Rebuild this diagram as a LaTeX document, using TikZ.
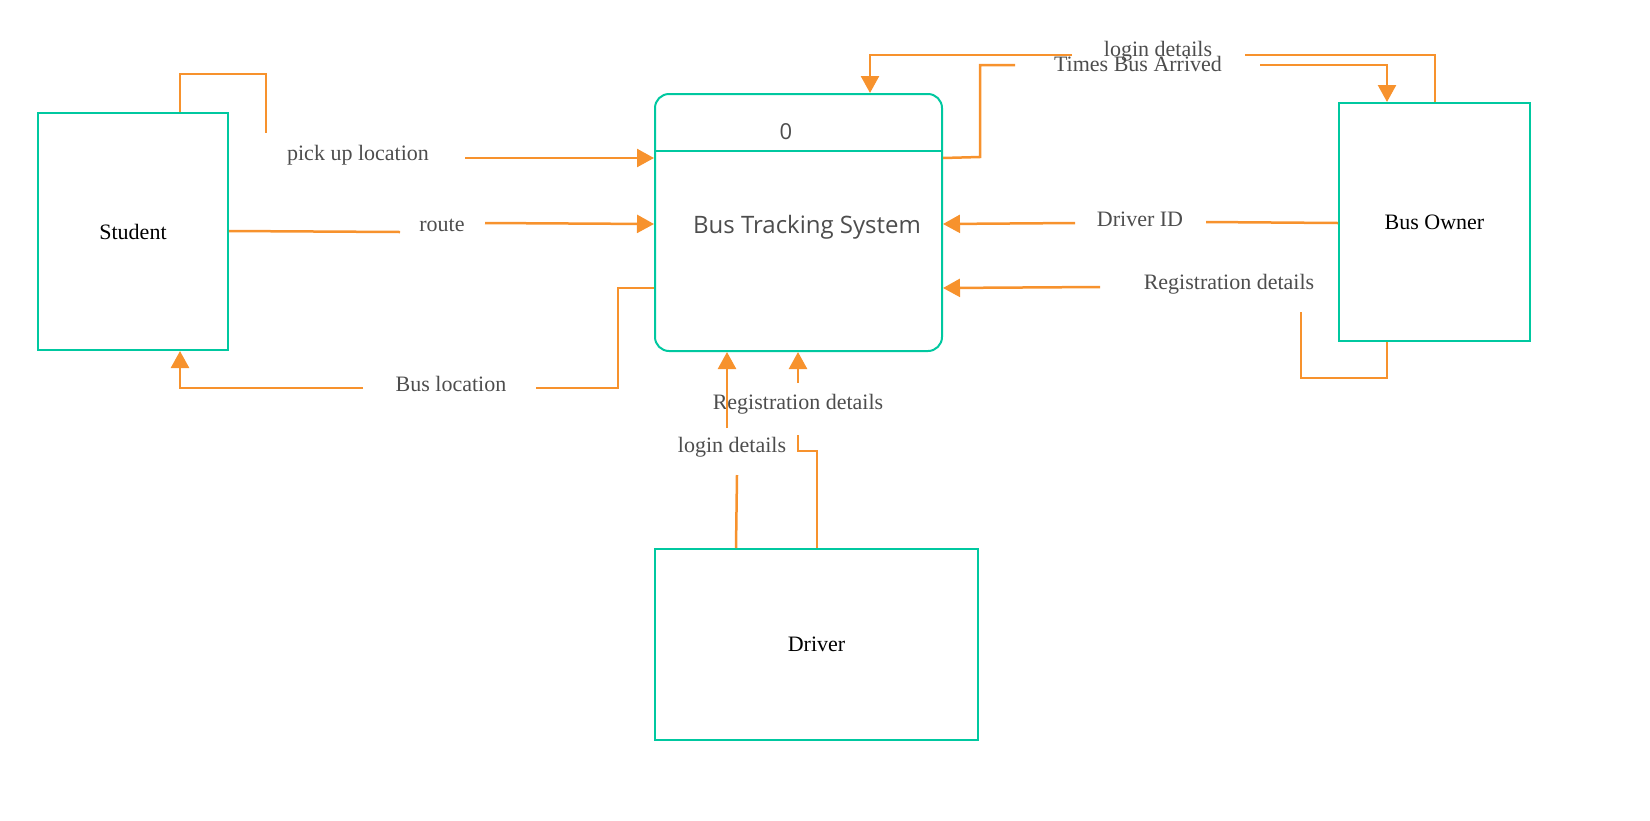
\documentclass[tikz,border=0pt]{standalone}
\usepackage{fontspec}
\setmainfont{Liberation Serif}
\newfontfamily\sansf{Open Sans}
\usetikzlibrary{arrows.meta}
\definecolor{tl}{HTML}{00C8A0}
\definecolor{og}{HTML}{F7922D}
\definecolor{gr}{HTML}{4D4D4D}
\begin{document}
\begin{tikzpicture}[x=1pt,y=-1pt,
 box/.style={draw=tl,line width=2pt,rectangle,inner sep=0pt,font=\fontsize{22}{26}\selectfont},
 lbl/.style={text=gr,font=\fontsize{22}{26}\selectfont,inner sep=0pt},
 con/.style={draw=og,line width=2.5pt},
 arr/.style={con,-{Triangle[length=17pt,width=18pt]}}]
\useasboundingbox (0,0) rectangle (1650,820);
\node[box,minimum width=190pt,minimum height=237pt] (stu) at (133,231.5) {Student};
\node[box,minimum width=191pt,minimum height=238pt] (own) at (1434.5,222) {Bus Owner};
\node[box,minimum width=323pt,minimum height=191pt] (drv) at (816.5,644.5) {Driver};
\node[draw=tl,line width=2pt,rounded corners=14pt,minimum width=287pt,minimum height=257pt,inner sep=0pt] (p) at (798.5,222.5) {};
\draw[draw=tl,line width=2pt] (655,151) -- (942,151);
\node[text=gr,font=\sansf\fontsize{22}{26}\selectfont] (p0) at (786,132) {0};
\node[text=gr,font=\sansf\fontsize{24}{28}\selectfont] (pt) at (807,227) {Bus Tracking System};
% labels
\node[lbl] (l1) at (358,155) {pick up location};
\node[lbl] (l2) at (442,225) {route};
\node[lbl] (l3) at (451,384) {Bus location};
\node[lbl] (l4) at (1158,51) {login details};
\node[lbl] (l5) at (1138,64) {Times Bus Arrived};
\node[lbl] (l6) at (1140,219) {Driver ID};
\node[lbl] (l7) at (1229,284) {Registration details};
\node[lbl] (l8) at (732,447) {login details};
\node[lbl] (l9) at (798,404) {Registration details};
% connectors
\draw[con] (stu.north -| 180,0) -- (180,74) -- (266,74) -- (266,133);
\draw[arr] (465,158) -- (p.west |- 0,158);
\draw[con] (stu.east |- 0,231) -- (400,232);
\draw[arr] (485,223) -- (p.west |- 0,224);
\draw[con] (p.west |- 0,288) -- (618,288) -- (618,388) -- (536,388);
\draw[arr] (363,388) -- (180,388) -- (stu.south -| 180,0);
\draw[con] (own.north -| 1435,0) -- (1435,55) -- (1245,55);
\draw[arr] (1072,55) -- (870,55) -- (p.north -| 870,0);
\draw[con] (p.east |- 0,158) -- (980,157) -- (980,65) -- (1015,65);
\draw[arr] (1260,65) -- (1387,65) -- (own.north -| 1387,0);
\draw[con] (own.west |- 0,223) -- (1206,222);
\draw[arr] (1075,223) -- (p.east |- 0,224);
\draw[con] (own.south -| 1387,0) -- (1387,378) -- (1301,378) -- (1301,312);
\draw[arr] (1100,287) -- (p.east |- 0,288);
\draw[con] (drv.north -| 736,0) -- (737,475);
\draw[arr] (727,428) -- (p.south -| 727,0);
\draw[con] (drv.north -| 817,0) -- (817,451) -- (798,451) -- (798,435);
\draw[arr] (798,383) -- (p.south -| 798,0);
\end{tikzpicture}
\end{document}
